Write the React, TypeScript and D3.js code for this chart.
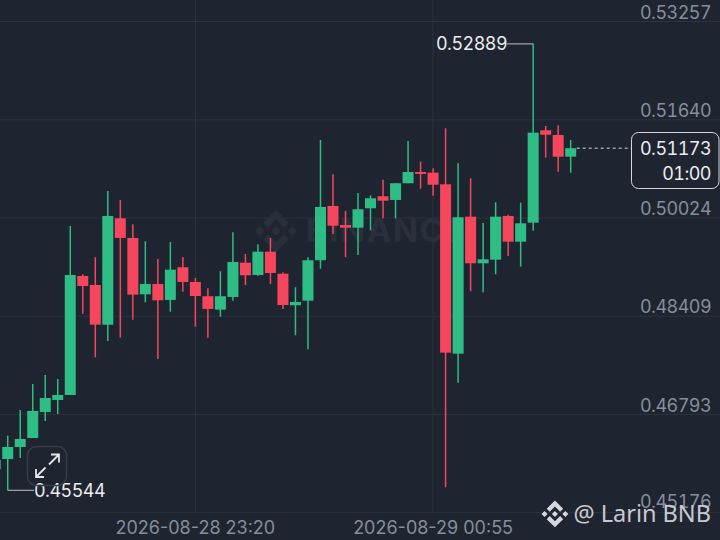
import React, { useEffect, useRef } from 'react';
import * as d3 from 'd3';

// 5 minute candles, oldest first
const opens = [
  0.45891, 0.4606, 0.46257, 0.46405, 0.46833, 0.47031, 0.47113, 0.49071, 0.48922, 0.48269, 0.5002, 0.49696,
  0.48769, 0.48939, 0.48676, 0.49214, 0.48972, 0.48737, 0.48516, 0.48725, 0.49289, 0.49087, 0.4947, 0.49108,
  0.48589, 0.48664, 0.49329, 0.50222, 0.49909, 0.49865, 0.50184, 0.50382, 0.50321, 0.50596, 0.50781, 0.5077,
  0.50579, 0.47792, 0.50046, 0.49279, 0.49339, 0.50058, 0.49635, 0.49947, 0.51467, 0.5139, 0.51033,
];
const highs = [
  0.461, 0.46443, 0.46866, 0.47294, 0.47442, 0.47376, 0.49893, 0.49098, 0.49378, 0.50469, 0.50321, 0.49921,
  0.49641, 0.4935, 0.4963, 0.49383, 0.49038, 0.48868, 0.49148, 0.49789, 0.49432, 0.49592, 0.49696, 0.49131,
  0.48885, 0.49378, 0.51308, 0.50744, 0.5014, 0.50436, 0.50398, 0.50655, 0.50596, 0.51291, 0.50951, 0.50842,
  0.515, 0.50925, 0.50678, 0.49942, 0.50283, 0.50079, 0.50276, 0.52889, 0.51538, 0.5155, 0.51308,
];
const lows = [
  0.4575, 0.45544, 0.46076, 0.46405, 0.46685, 0.468, 0.47113, 0.4845, 0.47733, 0.48001, 0.48055, 0.48352,
  0.48638, 0.47705, 0.48483, 0.48812, 0.48236, 0.48055, 0.48401, 0.48664, 0.48922, 0.49075, 0.48939, 0.48528,
  0.48095, 0.47865, 0.49191, 0.49761, 0.49383, 0.49416, 0.49822, 0.5002, 0.5002, 0.50596, 0.50507, 0.50392,
  0.45594, 0.47315, 0.48819, 0.48802, 0.49098, 0.494, 0.49224, 0.49816, 0.51017, 0.50786, 0.5077,
];
const closes = [
  0.46044, 0.46257, 0.46389, 0.4685, 0.47063, 0.47113, 0.49087, 0.48906, 0.48269, 0.50058, 0.49696, 0.48763,
  0.48939, 0.48671, 0.49174, 0.48972, 0.48741, 0.48528, 0.48737, 0.49301, 0.49082, 0.4947, 0.4912, 0.48593,
  0.48643, 0.49329, 0.50206, 0.49898, 0.49865, 0.50168, 0.50349, 0.50309, 0.50596, 0.50781, 0.50749, 0.50572,
  0.47809, 0.50036, 0.49279, 0.49345, 0.50046, 0.49635, 0.49937, 0.51428, 0.51395, 0.51033, 0.51173,
];

const priceTicks = [0.53257, 0.5164, 0.50024, 0.48409, 0.46793, 0.45176];
const timeTickIndexes = [16, 35];
const timeTickLabels = ['2026-08-28 23:20', '2026-08-29 00:55'];

const highLabel = { index: 43, price: 0.52889, text: '0.52889' };
const lowLabel = { index: 1, price: 0.45544, text: '0.45544' };
const lastPrice = { index: 46, price: 0.51173, text: '0.51173', countdown: '01:00' };

const BG = '#1f2530';
const GRID = '#2d333e';
const GREEN = '#2ebd85';
const RED = '#f6465d';
const AXIS_TEXT = '#848e9c';
const LABEL_TEXT = '#eaecef';
const FONT = 'Inter, "Noto Sans", sans-serif';
const FONT_SIZE = 18;
const TABULAR = 'font-variant-numeric: tabular-nums; letter-spacing: -0.55px';

const LOGO =
  'M16.624 13.9202l2.7175 2.7154-7.353 7.3509-7.353-7.3488 2.7175-2.7175 4.6355 4.6495 4.6355-4.6495zm4.6366-4.6366L24 12l-2.7154 2.7164L18.5682 12l2.6924-2.7164zm-9.272.001l2.7163 2.6914-2.7164 2.7174v-.001L9.2721 12l2.7164-2.7154zm-9.2722-.001L5.4088 12l-2.6914 2.6924L0 12l2.7164-2.7164zM11.9885.0115l7.353 7.3288-2.7174 2.7154-4.6356-4.6355-4.6355 4.6595-2.7174-2.7154 7.353-7.3528z';

export default function App() {
  const svgRef = useRef<SVGSVGElement>(null);

  useEffect(() => {
    if (!svgRef.current) return;
    const width = 720;
    const height = 540;

    const svg = d3.select(svgRef.current);
    svg.selectAll('*').remove();

    const x = d3.scaleLinear().domain([0, 46]).range([-4.8, 570.7]);
    const y = d3.scaleLinear().domain([0.45176, 0.53257]).range([512.7, 21.5]);

    svg.append('rect').attr('width', width).attr('height', height).attr('fill', BG);

    // Grid
    svg
      .selectAll('line.h')
      .data(priceTicks)
      .join('line')
      .attr('x1', 0)
      .attr('x2', width)
      .attr('y1', (d) => y(d))
      .attr('y2', (d) => y(d))
      .attr('stroke', GRID);
    svg
      .selectAll('line.v')
      .data(timeTickIndexes)
      .join('line')
      .attr('x1', (d) => x(d))
      .attr('x2', (d) => x(d))
      .attr('y1', 0)
      .attr('y2', y(0.45176))
      .attr('stroke', GRID);

    // Watermark sits under the candles
    svg
      .append('path')
      .attr('d', LOGO)
      .attr('transform', 'translate(255,210) scale(1.75)')
      .attr('fill', '#2a303b');
    svg
      .append('text')
      .attr('x', 306)
      .attr('y', 242)
      .attr('font-family', FONT)
      .attr('font-size', 33)
      .attr('font-weight', 700)
      .attr('letter-spacing', 1.5)
      .attr('fill', '#2a303b')
      .text('BINANCE');

    // Candles
    const candles = d3.range(opens.length);
    const color = (i: number) => (closes[i] >= opens[i] ? GREEN : RED);
    svg
      .selectAll('line.wick')
      .data(candles)
      .join('line')
      .attr('x1', (i) => x(i))
      .attr('x2', (i) => x(i))
      .attr('y1', (i) => y(highs[i]))
      .attr('y2', (i) => y(lows[i]))
      .attr('stroke', color)
      .attr('stroke-width', 1.5);
    svg
      .selectAll('rect.body')
      .data(candles)
      .join('rect')
      .attr('x', (i) => x(i) - 5.5)
      .attr('width', 11)
      .attr('y', (i) => y(Math.max(opens[i], closes[i])))
      .attr('height', (i) => Math.abs(y(opens[i]) - y(closes[i])))
      .attr('fill', color);

    // Price axis
    const yAxis = svg
      .append('g')
      .attr('transform', 'translate(711,0)')
      .call(d3.axisLeft(y).tickValues(priceTicks).tickSize(0).tickFormat(d3.format('.5f')));
    yAxis.select('.domain').remove();
    yAxis
      .selectAll('text')
      .attr('x', 0)
      // bottom label is pushed up a little so it stays inside the plot
      .attr('dy', (d) => (d === 0.45176 ? -5.7 : -3.4))
      .attr('font-family', FONT)
      .attr('font-size', FONT_SIZE)
      .attr('style', TABULAR)
      .attr('fill', AXIS_TEXT);

    // Time labels
    svg
      .selectAll('text.time')
      .data(timeTickIndexes)
      .join('text')
      .attr('x', (d) => x(d))
      .attr('y', 533.5)
      .attr('text-anchor', 'middle')
      .attr('font-family', FONT)
      .attr('font-size', FONT_SIZE)
      .attr('fill', AXIS_TEXT)
      .text((_, i) => timeTickLabels[i]);

    // High and low markers
    svg
      .append('path')
      .attr('d', `M${x(highLabel.index)},${y(highLabel.price)}H507`)
      .attr('fill', 'none')
      .attr('stroke', '#a5a9ae')
      .attr('stroke-width', 1.2);
    svg
      .append('text')
      .attr('x', 507)
      .attr('y', y(highLabel.price) + 6.5)
      .attr('text-anchor', 'end')
      .attr('font-family', FONT)
      .attr('font-size', FONT_SIZE)
      .attr('style', TABULAR)
      .attr('fill', LABEL_TEXT)
      .text(highLabel.text);
    svg
      .append('path')
      .attr('d', `M${x(lowLabel.index)},${y(lowLabel.price)}H34`)
      .attr('fill', 'none')
      .attr('stroke', '#a5a9ae')
      .attr('stroke-width', 1.2);
    svg
      .append('text')
      .attr('x', 34)
      .attr('y', y(lowLabel.price) + 7)
      .attr('font-family', FONT)
      .attr('font-size', FONT_SIZE)
      .attr('style', TABULAR)
      .attr('fill', LABEL_TEXT)
      .text(lowLabel.text);

    // Last price
    svg
      .append('line')
      .attr('x1', x(lastPrice.index) + 6)
      .attr('x2', 631)
      .attr('y1', y(lastPrice.price))
      .attr('y2', y(lastPrice.price))
      .attr('stroke', '#d5d8dc')
      .attr('stroke-dasharray', '3,3');
    svg
      .append('rect')
      .attr('x', 631.5)
      .attr('y', 132.5)
      .attr('width', 87.5)
      .attr('height', 56)
      .attr('rx', 7)
      .attr('fill', BG)
      .attr('stroke', '#d5d8dc');
    svg
      .append('text')
      .attr('x', 711)
      .attr('y', 154.8)
      .attr('text-anchor', 'end')
      .attr('font-family', FONT)
      .attr('font-size', FONT_SIZE)
      .attr('style', TABULAR)
      .attr('fill', LABEL_TEXT)
      .text(lastPrice.text);
    svg
      .append('text')
      .attr('x', 711)
      .attr('y', 179.8)
      .attr('text-anchor', 'end')
      .attr('font-family', FONT)
      .attr('font-size', FONT_SIZE)
      .attr('style', TABULAR)
      .attr('fill', LABEL_TEXT)
      .text(lastPrice.countdown);

    // Expand button
    svg
      .append('rect')
      .attr('x', 27.5)
      .attr('y', 446.5)
      .attr('width', 39)
      .attr('height', 39)
      .attr('rx', 9)
      .attr('fill', 'none')
      .attr('stroke', '#363c48')
      .attr('stroke-width', 1.5);
    svg
      .append('path')
      .attr('d', 'M49,464.5L59,454.5M51,454.5H59V462.5M45.5,467.5L36,477M36,469V477H44')
      .attr('fill', 'none')
      .attr('stroke', '#e3e5e8')
      .attr('stroke-width', 1.8);

    // Signature
    svg
      .append('path')
      .attr('d', LOGO)
      .attr('transform', 'translate(541.5,500.5) scale(1.12)')
      .attr('fill', '#d5d8dc');
    svg
      .append('text')
      .attr('x', 711)
      .attr('y', 522)
      .attr('text-anchor', 'end')
      .attr('font-family', '"Noto Sans", sans-serif')
      .attr('font-size', 23.5)
      .attr('fill', '#c6cad0')
      .text('@ Larin BNB');
  }, []);

  return (
    <svg
      ref={svgRef}
      width="720"
      height="540"
      viewBox="0 0 720 540"
      style={{ position: 'fixed', left: 0, top: 0, display: 'block' }}
    ></svg>
  );
}
